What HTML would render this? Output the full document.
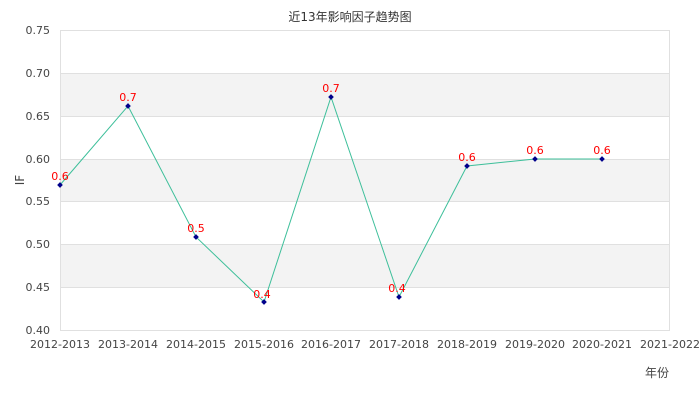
<!DOCTYPE html><html><head><style>body{margin:0;background:#fff}svg{display:block}text{font-family:"DejaVu Sans","Noto Sans CJK SC",sans-serif}</style></head><body>
<svg width="700" height="400" xmlns="http://www.w3.org/2000/svg">
<rect width="700" height="400" fill="#fff"/>
<text x="350" y="21" font-size="12" text-anchor="middle" fill="#333">近13年影响因子趋势图</text>
<g fill="#f3f3f3"><rect x="60" y="73" width="610" height="43"/><rect x="60" y="159" width="610" height="42"/><rect x="60" y="244" width="610" height="43"/></g>
<g stroke="#e0e0e0" stroke-width="1"><line x1="60" y1="30.5" x2="670" y2="30.5"/><line x1="60" y1="73.5" x2="670" y2="73.5"/><line x1="60" y1="116.5" x2="670" y2="116.5"/><line x1="60" y1="159.5" x2="670" y2="159.5"/><line x1="60" y1="201.5" x2="670" y2="201.5"/><line x1="60" y1="244.5" x2="670" y2="244.5"/><line x1="60" y1="287.5" x2="670" y2="287.5"/><line x1="60" y1="330.5" x2="670" y2="330.5"/><line x1="60.5" y1="30" x2="60.5" y2="330"/><line x1="669.5" y1="30" x2="669.5" y2="330"/></g>
<g font-size="11" fill="#444" text-anchor="end"><text x="50" y="34">0.75</text><text x="50" y="77">0.70</text><text x="50" y="120">0.65</text><text x="50" y="163">0.60</text><text x="50" y="205">0.55</text><text x="50" y="248">0.50</text><text x="50" y="291">0.45</text><text x="50" y="334">0.40</text></g>
<text x="24" y="180" font-size="12" fill="#444" transform="rotate(-90 24 180)" text-anchor="middle">IF</text>
<g font-size="11" fill="#444" text-anchor="middle"><text x="60" y="348">2012-2013</text><text x="128" y="348">2013-2014</text><text x="196" y="348">2014-2015</text><text x="264" y="348">2015-2016</text><text x="331" y="348">2016-2017</text><text x="399" y="348">2017-2018</text><text x="467" y="348">2018-2019</text><text x="535" y="348">2019-2020</text><text x="602" y="348">2020-2021</text><text x="670" y="348">2021-2022</text></g>
<text x="669" y="377" font-size="12" fill="#444" text-anchor="end">年份</text>
<polyline fill="none" stroke="#3dbf9a" stroke-width="1" points="60,185 128,106 196,237 264,302 331,97 399,297 467,166 535,159 602,159"/>
<g fill="#00008b"><rect x="58" y="183" width="4" height="4" transform="rotate(45 60 185)"/><rect x="126" y="104" width="4" height="4" transform="rotate(45 128 106)"/><rect x="194" y="235" width="4" height="4" transform="rotate(45 196 237)"/><rect x="262" y="300" width="4" height="4" transform="rotate(45 264 302)"/><rect x="329" y="95" width="4" height="4" transform="rotate(45 331 97)"/><rect x="397" y="295" width="4" height="4" transform="rotate(45 399 297)"/><rect x="465" y="164" width="4" height="4" transform="rotate(45 467 166)"/><rect x="533" y="157" width="4" height="4" transform="rotate(45 535 159)"/><rect x="600" y="157" width="4" height="4" transform="rotate(45 602 159)"/></g>
<g font-size="11" fill="#f00" text-anchor="middle"><text x="60" y="180">0.6</text><text x="128" y="101">0.7</text><text x="196" y="232">0.5</text><text x="262" y="298">0.4</text><text x="331" y="92">0.7</text><text x="397" y="292">0.4</text><text x="467" y="161">0.6</text><text x="535" y="154">0.6</text><text x="602" y="154">0.6</text></g>
</svg></body></html>
